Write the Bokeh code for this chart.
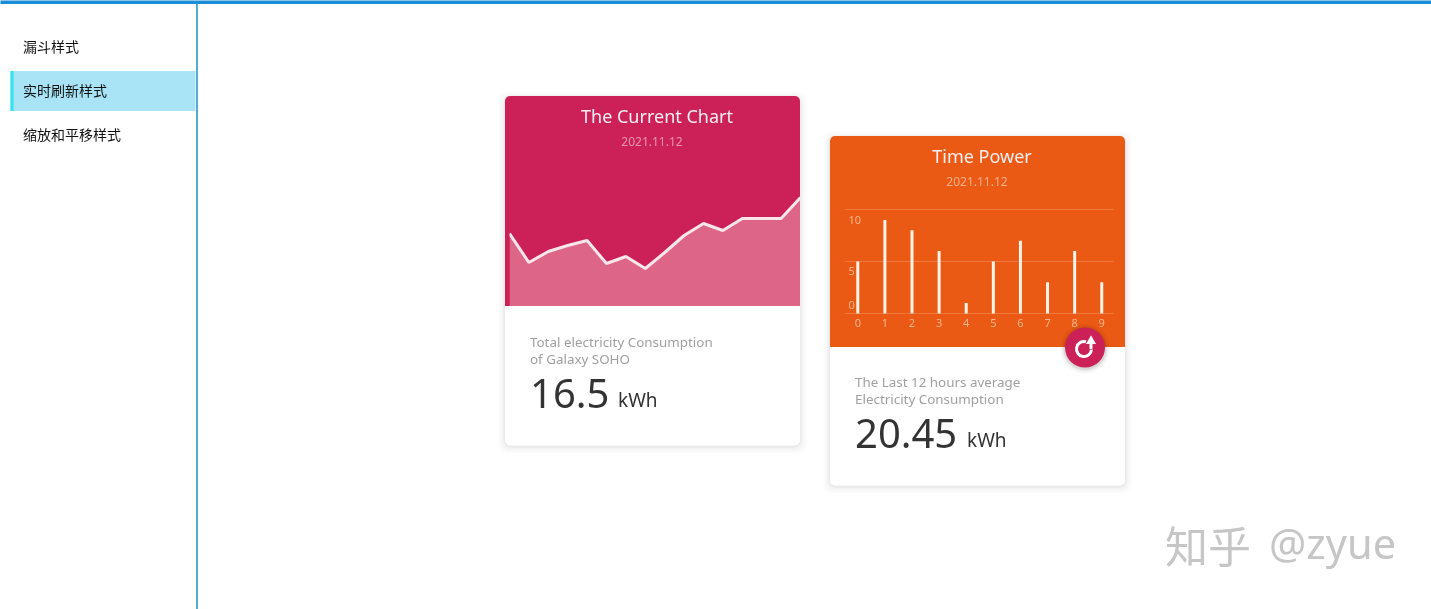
from bokeh.core.properties import value
from bokeh.embed import file_html
from bokeh.layouts import column
from bokeh.models import FixedTicker, Range1d
from bokeh.plotting import figure
from bokeh.resources import INLINE

menu_items = ['漏斗样式', '实时刷新样式', '缩放和平移样式']

area_values = [73, 44, 55, 61, 66, 43, 50, 38, 54, 71, 83, 76, 88, 88, 88, 109]
area_index = list(range(len(area_values)))

bar_values = [5, 9, 8, 6, 1, 5, 7, 3, 6, 3]
bar_index = list(range(len(bar_values)))
y_tick_values = [0, 5, 10]
y_tick_offsets = [-8, 9, 10]

W, H = 1431, 609
CRIMSON = '#cc2158'
ORANGE = '#eb5a14'
FONT = 'Noto Sans'
CJK = 'Noto Sans CJK SC'

# page behind everything, works in screen pixels
page = figure(width=W, height=H, x_range=Range1d(0.5, W + 0.5), y_range=Range1d(H + 0.5, 0.5),
              output_backend='svg', toolbar_location=None, min_border=0,
              outline_line_color=None, styles={'position': 'fixed', 'left': '0px', 'top': '0px'})
page.axis.visible = False
page.grid.visible = False

page.quad(left=0, right=W + 1, top=0, bottom=4, color='#1a8dd6', line_color=None)
page.quad(left=196.2, right=197.8, top=3, bottom=H + 1, color='#2a96c8', line_color=None)
page.quad(left=10.5, right=195.5, top=71, bottom=111, color='#a8e4f5', line_color=None)
page.quad(left=10.5, right=13.5, top=71, bottom=111, color='#2fe6f0', line_color=None)
page.text(x=[23, 23, 23], y=[46, 90, 134], text=menu_items, text_font=value(CJK),
          text_font_size='14px', text_color='#111111', text_baseline='middle')


def card(left, top, header_bottom, color, title, cx, lines, big, unit, unit_x):
    right, bottom = left + 295, top + 349.5
    for grow, alpha in [(7, 0.01), (5, 0.014), (3, 0.02), (1.5, 0.03)]:
        page.quad(left=left - grow, right=right + grow, top=top - grow + 2, bottom=bottom + grow + 1,
                  color='#000000', alpha=alpha, line_color=None, border_radius=8)
    page.quad(left=left, right=right, top=top, bottom=bottom, color='#ffffff', line_color=None,
              border_radius=5)
    page.quad(left=left, right=right, top=top, bottom=header_bottom, color=color, line_color=None,
              border_radius=(5, 5, 0, 0))
    page.text(x=[cx], y=[top + 20], text=[title], text_font=value(FONT), text_font_size='18px',
              text_color='#fdeef0', text_align='center', text_baseline='middle')
    page.text(x=[left + 147], y=[top + 45], text=['2021.11.12'], text_font=value(FONT), text_font_size='12px',
              text_color='#ffffff', text_alpha=0.5, text_align='center', text_baseline='middle')
    page.text(x=[left + 25, left + 25], y=[top + 246, top + 263], text=lines, text_font=value(FONT),
              text_font_size='13.4px', text_color='#a0a0a0', text_baseline='middle')
    page.text(x=[left + 25], y=[top + 297], text=[big], text_font=value(FONT), text_font_size='40px',
              text_color='#333333', text_baseline='middle')
    page.text(x=[unit_x], y=[top + 304], text=[unit], text_font=value(FONT), text_font_size='19px',
              text_color='#333333', text_baseline='middle')


card(505, 96, 306, CRIMSON, 'The Current Chart', 657,
     ['Total electricity Consumption', 'of Galaxy SOHO'], '16.5', 'kWh', 618)
card(830, 136, 347, ORANGE, 'Time Power', 982,
     ['The Last 12 hours average', 'Electricity Consumption'], '20.45', 'kWh', 967)

# refresh button
for grow, alpha in [(5, 0.03), (3, 0.05), (1.5, 0.07)]:
    page.circle(x=[1085], y=[348.5], radius=20 + grow, color='#000000', alpha=alpha, line_color=None)
page.circle(x=[1085], y=[347.5], radius=20, color=CRIMSON, line_color=None)
page.arc(x=[1084], y=[349], radius=7.5, start_angle=1.3, end_angle=6.2, line_color='#ffffff', line_width=3)
page.segment(x0=[1091], y0=[349], x1=[1091], y1=[342], line_color='#ffffff', line_width=3)
page.scatter(x=[1091], y=[341], marker='triangle', size=10, color='#ffffff', line_color=None)

page.text(x=[1165], y=[544], text=['知乎'], text_font=value(CJK), text_font_size='43px',
          text_color='#c6c6c6', text_baseline='middle')
page.text(x=[1269], y=[543], text=['@zyue'], text_font=value(FONT), text_font_size='41.5px',
          text_color='#c6c6c6', text_baseline='middle')

# area chart of the first card
area = figure(frame_width=291, frame_height=120, x_range=Range1d(0, 15), y_range=Range1d(0, 120),
              output_backend='svg', toolbar_location=None, min_border=0, outline_line_color=None,
              background_fill_color=None, border_fill_color=None,
              styles={'position': 'fixed', 'left': '509px', 'top': '186px'})
area.axis.visible = False
area.grid.visible = False
area.varea(x=area_index, y1=[0] * len(area_values), y2=area_values, color='#dd6688')
area.line(x=area_index, y=area_values, line_color='#fbe6ec', line_width=3)

# bar chart of the second card
bars = figure(frame_width=270, frame_height=106, x_range=Range1d(-0.49, 9.47), y_range=Range1d(-0.1, 10.1),
              output_backend='svg', toolbar_location=None, min_border=0, outline_line_color=None,
              background_fill_color=None, border_fill_color=None,
              styles={'position': 'fixed', 'left': '844px', 'top': '207.5px'})
bars.yaxis.visible = False
bars.xgrid.visible = False
bars.ygrid.ticker = FixedTicker(ticks=y_tick_values)
bars.ygrid.grid_line_color = '#ffffff'
bars.ygrid.grid_line_alpha = 0.18
bars.xaxis.ticker = FixedTicker(ticks=bar_index)
bars.xaxis.axis_line_color = None
bars.xaxis.major_tick_line_color = None
bars.xaxis.minor_tick_line_color = None
bars.xaxis.major_tick_out = 0
bars.xaxis.major_label_standoff = 4
bars.xaxis.major_label_text_font = FONT
bars.xaxis.major_label_text_font_size = '11px'
bars.xaxis.major_label_text_color = '#f9b48c'
bars.vbar(x=bar_index, top=bar_values, bottom=0, width=0.11, color='#fff4ea', line_color=None)
bars.text(x=[-0.49 + 4 * 9.96 / 270] * 3, y=y_tick_values, text=[str(v) for v in y_tick_values],
          y_offset=y_tick_offsets, text_font=value(FONT), text_font_size='11px', text_color='#f9b48c',
          text_baseline='middle')

root = column(page, area, bars)
open('out.html', 'w').write(file_html(root, INLINE))
